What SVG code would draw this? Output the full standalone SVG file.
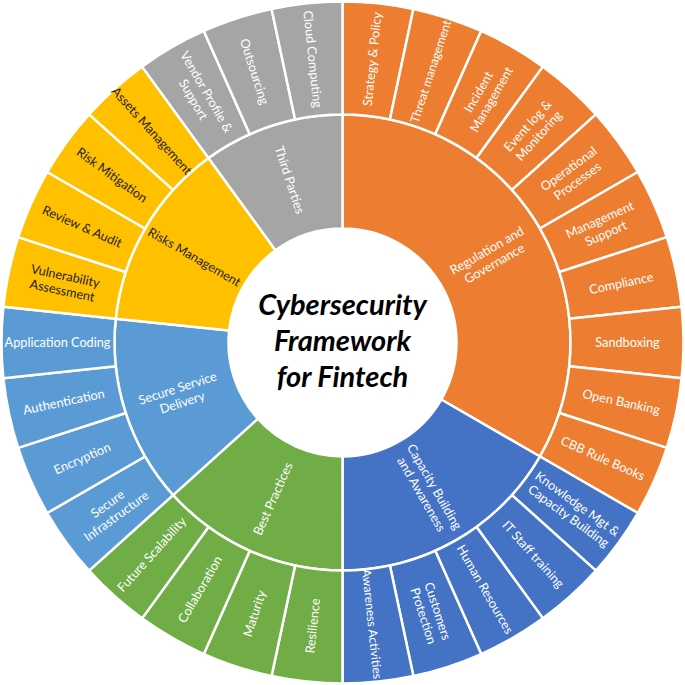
<svg xmlns="http://www.w3.org/2000/svg" xmlns:xlink="http://www.w3.org/1999/xlink" width="685" height="685" viewBox="0 0 685 685">
<style>
.w{stroke:#fff;stroke-width:2.5;stroke-linejoin:round}
.or{fill:#ED7D31}.bl{fill:#4472C4}.gr{fill:#70AD47}.lb{fill:#5B9BD5}.go{fill:#FFC000}.gy{fill:#A5A5A5}
text{font-family:Lato,"Open Sans","Liberation Sans",sans-serif;font-size:12.7px;text-anchor:middle;fill:#fff}
.dk{fill:#1e1e1e}
.sm{font-size:12.2px}
.ctr{font-size:29px;font-weight:bold;font-style:italic;fill:#000}
</style>
<defs>
<path id="o12" d="M342.5,1.5 A341,341 0 0 1 413.397,8.951 L389.903,119.482 A228,228 0 0 0 342.5,114.5 Z"/>
<path id="i120" d="M342.5,114.5 A228,228 0 0 1 539.955,456.5 L441.227,399.5 A114,114 0 0 0 342.5,228.5 Z"/>
<path id="i60" d="M342.5,114.5 A228,228 0 0 1 539.955,228.5 L441.227,285.5 A114,114 0 0 0 342.5,228.5 Z"/>
<path id="i48" d="M342.5,114.5 A228,228 0 0 1 511.936,189.938 L427.218,266.219 A114,114 0 0 0 342.5,228.5 Z"/>
<path id="i36" d="M342.5,114.5 A228,228 0 0 1 476.516,158.043 L409.508,250.272 A114,114 0 0 0 342.5,228.5 Z"/>
</defs>
<rect width="685" height="685" fill="#fff"/>
<g id="regulation-governance">
<use xlink:href="#i120" class="w or"/>
<text transform="translate(342.5 342.5) rotate(-30) translate(171 0)"><tspan x="0" y="-3.1">Regulation and</tspan><tspan x="0" y="11.9">Governance</tspan></text>
<g id="reg-items">
<use xlink:href="#o12" class="w or" transform="rotate(0 342.5 342.5)"/>
<use xlink:href="#o12" class="w or" transform="rotate(12 342.5 342.5)"/>
<use xlink:href="#o12" class="w or" transform="rotate(24 342.5 342.5)"/>
<use xlink:href="#o12" class="w or" transform="rotate(36 342.5 342.5)"/>
<use xlink:href="#o12" class="w or" transform="rotate(48 342.5 342.5)"/>
<use xlink:href="#o12" class="w or" transform="rotate(60 342.5 342.5)"/>
<use xlink:href="#o12" class="w or" transform="rotate(72 342.5 342.5)"/>
<use xlink:href="#o12" class="w or" transform="rotate(84 342.5 342.5)"/>
<use xlink:href="#o12" class="w or" transform="rotate(96 342.5 342.5)"/>
<use xlink:href="#o12" class="w or" transform="rotate(108 342.5 342.5)"/>
<text transform="translate(342.5 342.5) rotate(-84) translate(285 0)" y="4.4">Strategy &amp; Policy</text>
<text class="sm" transform="translate(342.5 342.5) rotate(-72) translate(285 0)" y="4.4">Threat management</text>
<text transform="translate(342.5 342.5) rotate(-60) translate(285 0)"><tspan x="0" y="-3.1">Incident</tspan><tspan x="0" y="11.9">Management</tspan></text>
<text transform="translate(342.5 342.5) rotate(-48) translate(285 0)"><tspan x="0" y="-3.1">Event log &amp;</tspan><tspan x="0" y="11.9">Monitoring</tspan></text>
<text transform="translate(342.5 342.5) rotate(-36) translate(285 0)"><tspan x="0" y="-3.1">Operational</tspan><tspan x="0" y="11.9">Processes</tspan></text>
<text transform="translate(342.5 342.5) rotate(-24) translate(285 0)"><tspan x="0" y="-3.1">Management</tspan><tspan x="0" y="11.9">Support</tspan></text>
<text transform="translate(342.5 342.5) rotate(-12) translate(285 0)" y="4.4">Compliance</text>
<text transform="translate(342.5 342.5) rotate(0) translate(285 0)" y="4.4">Sandboxing</text>
<text transform="translate(342.5 342.5) rotate(12) translate(285 0)" y="4.4">Open Banking</text>
<text transform="translate(342.5 342.5) rotate(24) translate(285 0)" y="4.4">CBB Rule Books</text>
</g>
</g>
<g id="capacity-building">
<use xlink:href="#i60" class="w bl" transform="rotate(120 342.5 342.5)"/>
<text transform="translate(342.5 342.5) rotate(60) translate(171 0)"><tspan x="0" y="-3.1">Capacity Building</tspan><tspan x="0" y="11.9">and Awareness</tspan></text>
<g id="cap-items">
<use xlink:href="#o12" class="w bl" transform="rotate(120 342.5 342.5)"/>
<use xlink:href="#o12" class="w bl" transform="rotate(132 342.5 342.5)"/>
<use xlink:href="#o12" class="w bl" transform="rotate(144 342.5 342.5)"/>
<use xlink:href="#o12" class="w bl" transform="rotate(156 342.5 342.5)"/>
<use xlink:href="#o12" class="w bl" transform="rotate(168 342.5 342.5)"/>
<text transform="translate(342.5 342.5) rotate(36) translate(285 0)"><tspan x="0" y="-3.1">Knowledge Mgt &amp;</tspan><tspan x="0" y="11.9">Capacity Building</tspan></text>
<text transform="translate(342.5 342.5) rotate(48) translate(285 0)" y="4.4">IT Staff training</text>
<text transform="translate(342.5 342.5) rotate(60) translate(285 0)" y="4.4">Human Resources</text>
<text transform="translate(342.5 342.5) rotate(72) translate(285 0)"><tspan x="0" y="-3.1">Customers</tspan><tspan x="0" y="11.9">Protection</tspan></text>
<text class="sm" transform="translate(342.5 342.5) rotate(84) translate(283 0)" y="4.4">Awareness Activities</text>
</g>
</g>
<g id="best-practices">
<use xlink:href="#i48" class="w gr" transform="rotate(180 342.5 342.5)"/>
<text transform="translate(342.5 342.5) rotate(-66) translate(-171 0)" y="4.4">Best Practices</text>
<g id="best-items">
<use xlink:href="#o12" class="w gr" transform="rotate(180 342.5 342.5)"/>
<use xlink:href="#o12" class="w gr" transform="rotate(192 342.5 342.5)"/>
<use xlink:href="#o12" class="w gr" transform="rotate(204 342.5 342.5)"/>
<use xlink:href="#o12" class="w gr" transform="rotate(216 342.5 342.5)"/>
<text transform="translate(342.5 342.5) rotate(-84) translate(-285 0)" y="4.4">Resilience</text>
<text transform="translate(342.5 342.5) rotate(-72) translate(-285 0)" y="4.4">Maturity</text>
<text transform="translate(342.5 342.5) rotate(-60) translate(-285 0)" y="4.4">Collaboration</text>
<text transform="translate(342.5 342.5) rotate(-48) translate(-285 0)" y="4.4">Future Scalability</text>
</g>
</g>
<g id="secure-service-delivery">
<use xlink:href="#i48" class="w lb" transform="rotate(228 342.5 342.5)"/>
<text transform="translate(342.5 342.5) rotate(-18) translate(-171 0)"><tspan x="0" y="-3.1">Secure Service</tspan><tspan x="0" y="11.9">Delivery</tspan></text>
<g id="secure-items">
<use xlink:href="#o12" class="w lb" transform="rotate(228 342.5 342.5)"/>
<use xlink:href="#o12" class="w lb" transform="rotate(240 342.5 342.5)"/>
<use xlink:href="#o12" class="w lb" transform="rotate(252 342.5 342.5)"/>
<use xlink:href="#o12" class="w lb" transform="rotate(264 342.5 342.5)"/>
<text transform="translate(342.5 342.5) rotate(-36) translate(-285 0)"><tspan x="0" y="-3.1">Secure</tspan><tspan x="0" y="11.9">Infrastructure</tspan></text>
<text transform="translate(342.5 342.5) rotate(-24) translate(-285 0)" y="4.4">Encryption</text>
<text transform="translate(342.5 342.5) rotate(-12) translate(-285 0)" y="4.4">Authentication</text>
<text transform="translate(342.5 342.5) rotate(0) translate(-285 0)" y="4.4">Application Coding</text>
</g>
</g>
<g id="risks-management">
<use xlink:href="#i48" class="w go" transform="rotate(276 342.5 342.5)"/>
<text class="dk" transform="translate(342.5 342.5) rotate(30) translate(-171 0)" y="4.4">Risks Management</text>
<g id="risk-items">
<use xlink:href="#o12" class="w go" transform="rotate(276 342.5 342.5)"/>
<use xlink:href="#o12" class="w go" transform="rotate(288 342.5 342.5)"/>
<use xlink:href="#o12" class="w go" transform="rotate(300 342.5 342.5)"/>
<use xlink:href="#o12" class="w go" transform="rotate(312 342.5 342.5)"/>
<text class="dk" transform="translate(342.5 342.5) rotate(12) translate(-285 0)"><tspan x="0" y="-3.1">Vulnerability</tspan><tspan x="0" y="11.9">Assessment</tspan></text>
<text class="dk" transform="translate(342.5 342.5) rotate(24) translate(-285 0)" y="4.4">Review &amp; Audit</text>
<text class="dk" transform="translate(342.5 342.5) rotate(36) translate(-285 0)" y="4.4">Risk Mitigation</text>
<text class="dk" transform="translate(342.5 342.5) rotate(48) translate(-285 0)" y="4.4">Assets Management</text>
</g>
</g>
<g id="third-parties">
<use xlink:href="#i36" class="w gy" transform="rotate(324 342.5 342.5)"/>
<text transform="translate(342.5 342.5) rotate(72) translate(-171 0)" y="4.4">Third Parties</text>
<g id="third-items">
<use xlink:href="#o12" class="w gy" transform="rotate(324 342.5 342.5)"/>
<use xlink:href="#o12" class="w gy" transform="rotate(336 342.5 342.5)"/>
<use xlink:href="#o12" class="w gy" transform="rotate(348 342.5 342.5)"/>
<text transform="translate(342.5 342.5) rotate(60) translate(-285 0)"><tspan x="0" y="-3.1">Vendor Profile &amp;</tspan><tspan x="0" y="11.9">Support</tspan></text>
<text transform="translate(342.5 342.5) rotate(72) translate(-285 0)" y="4.4">Outsourcing</text>
<text transform="translate(342.5 342.5) rotate(84) translate(-285 0)" y="4.4">Cloud Computing</text>
</g>
</g>
<g id="center">
<circle cx="342.5" cy="342.5" r="112.5" fill="#fff"/>
<text class="ctr" x="342.5" y="315">Cybersecurity</text>
<text class="ctr" x="342.5" y="351">Framework</text>
<text class="ctr" x="342.5" y="387">for Fintech</text>
</g>
<g id="connectors"/>
</svg>
